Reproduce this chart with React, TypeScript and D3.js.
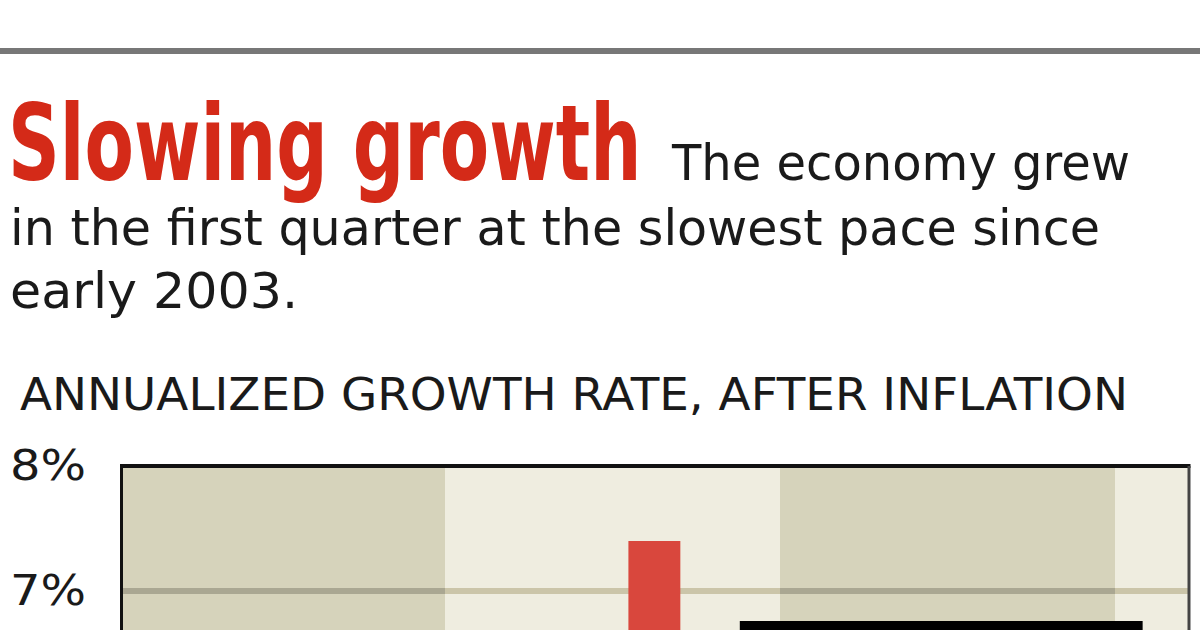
import * as d3 from 'd3';

// Quarterly real GDP growth, annualized (only the part visible in the crop)
const years = ['2002', '2003', '2004', '2005'];
const quarterNames = ['Q1', 'Q2', 'Q3', 'Q4'];
const yTicks = [7, 8];
const highlightQuarter = '2003 Q3';
const highlightValue = 7.4;
// black label box at the bottom edge: quarter positions and value of its top edge
const boxFrom = 7.52;
const boxTo = 12.33;
const boxTop = 6.76;

const titleText = 'Slowing growth';
const subtitleLines = [
  'The economy grew',
  'in the first quarter at the slowest pace since',
  'early 2003.',
];
const unitLabel = 'ANNUALIZED GROWTH RATE, AFTER INFLATION';

const W = 1200;
const H = 630;
const plot = { left: 120, right: 1189, top: 466 };

export default function App() {
  const quarters = years.flatMap(y => quarterNames.map(q => `${y} ${q}`));

  // one unit = one quarter
  const x = d3.scaleLinear().domain([0, 13]).range([110, 1198.75]);
  const y = d3.scaleLinear().domain([0, 8]).range([1466, 466]);

  const clipX = (v: number) => Math.max(plot.left, Math.min(plot.right, v));
  const hi = quarters.indexOf(highlightQuarter);

  const textFont = '"DejaVu Sans", "Open Sans", sans-serif';

  return (
    <div style={{ position: 'absolute', left: 0, top: 0 }}>
      <svg width={W} height={H} style={{ display: 'block', background: '#fff' }}>
        {/* top rule */}
        <line x1={0} x2={W} y1={51} y2={51} stroke="#777" strokeWidth={6} />

        {/* headline: condensed face, stretched tall like the original */}
        <text
          transform="translate(8,180) scale(1,1.325)"
          fill="#d42a18"
          fontSize={80}
          fontWeight="bold"
          fontFamily='"DejaVu Sans Condensed", "Liberation Sans Narrow", sans-serif'
        >
          {titleText}
        </text>

        <g fill="#1a1a1a" fontFamily={textFont} fontSize={50}>
          <text x={672} y={180} textLength={458} lengthAdjust="spacingAndGlyphs">
            {subtitleLines[0]}
          </text>
          <text x={10} y={245} textLength={1090} lengthAdjust="spacingAndGlyphs">
            {subtitleLines[1]}
          </text>
          <text x={10} y={308} textLength={288} lengthAdjust="spacingAndGlyphs">
            {subtitleLines[2]}
          </text>
        </g>

        <text
          x={20}
          y={410}
          fill="#1a1a1a"
          fontFamily={textFont}
          fontSize={44}
          textLength={1108}
          lengthAdjust="spacingAndGlyphs"
        >
          {unitLabel}
        </text>

        {/* year bands */}
        {years.map((yr, i) => {
          const x0 = clipX(x(i * 4));
          const x1 = clipX(x(i * 4 + 4));
          if (x1 <= x0) return null;
          const dark = i % 2 === 0;
          return (
            <g key={yr}>
              <rect x={x0} y={plot.top} width={x1 - x0} height={H - plot.top} fill={dark ? '#d6d3bb' : '#efede0'} />
              {yTicks
                .filter(t => t < 8)
                .map(t => (
                  <line
                    key={t}
                    x1={x0}
                    x2={x1}
                    y1={y(t)}
                    y2={y(t)}
                    stroke={dark ? '#aaa792' : '#cbc5a9'}
                    strokeWidth={6}
                  />
                ))}
            </g>
          );
        })}

        {/* highlighted quarter */}
        <rect
          x={x(hi + 0.19)}
          y={y(highlightValue)}
          width={x(hi + 0.81) - x(hi + 0.19)}
          height={H - y(highlightValue)}
          fill="#d9473d"
        />

        {/* black label box */}
        <rect x={x(boxFrom)} y={y(boxTop)} width={x(boxTo) - x(boxFrom)} height={H - y(boxTop)} fill="#000" />

        {/* frame */}
        <line x1={plot.left} x2={plot.right + 1.5} y1={plot.top} y2={plot.top} stroke="#111" strokeWidth={4} />
        <line x1={plot.left + 1.5} x2={plot.left + 1.5} y1={plot.top} y2={H} stroke="#111" strokeWidth={3} />
        <line x1={plot.right} x2={plot.right} y1={plot.top} y2={H} stroke="#444" strokeWidth={3} />

        {/* y tick labels */}
        {yTicks.map(t => (
          <text
            key={t}
            x={10}
            y={y(t) + 14}
            fill="#1a1a1a"
            fontFamily={textFont}
            fontSize={42}
            textLength={76}
            lengthAdjust="spacingAndGlyphs"
          >
            {`${t}%`}
          </text>
        ))}
      </svg>
    </div>
  );
}
